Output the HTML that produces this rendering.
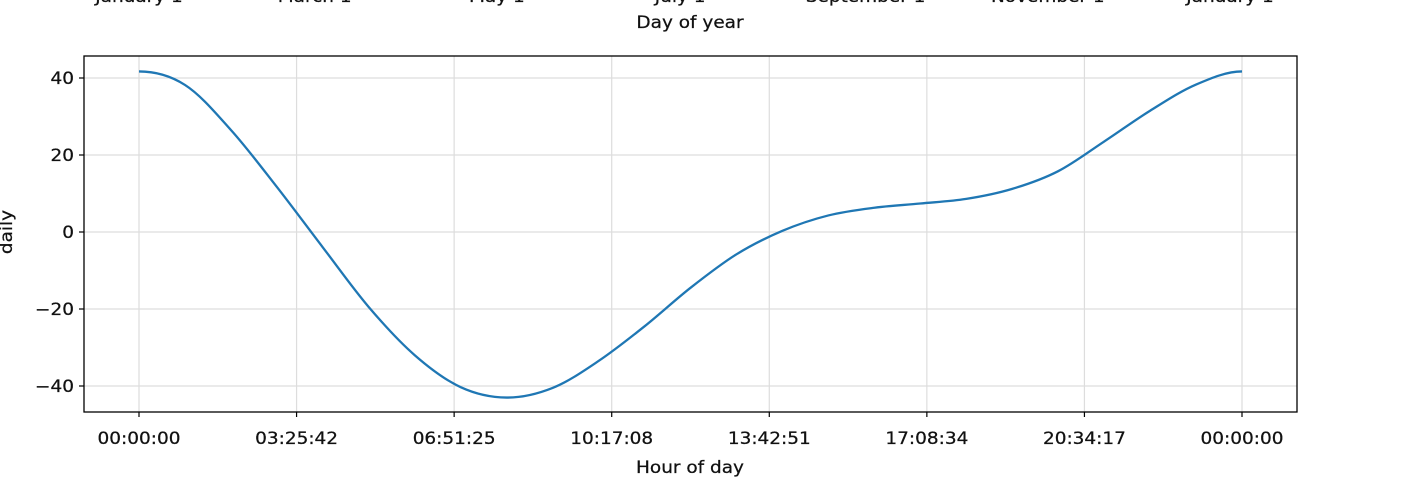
<!DOCTYPE html>
<html><head><meta charset="utf-8"><style>
html,body{margin:0;padding:0;background:#fff;}
svg{display:block;font-family:"DejaVu Sans","Liberation Sans",sans-serif;}
</style></head><body>
<svg id="chart" width="1411" height="481" viewBox="0 0 1411 481" xmlns="http://www.w3.org/2000/svg">
<g id="topAxis"></g>
<g id="grid"></g>
<path id="line" fill="none" stroke="#1f77b4" stroke-width="2.3"/>
<rect x="84" y="56" width="1213" height="356" fill="none" stroke="#000" stroke-width="1.3"/>
<g id="ticks"></g>
</svg>
<script>
const hours = [0,1,2,3,4,5,6,7,8,9,10,11,12,13,14,15,16,17,18,19,20,21,22,23,24];
const dailyValues = [41.7,38.2,26.5,11.7,-4,-19.5,-32,-40.3,-43,-40.5,-33.5,-24.5,-14.5,-5.8,0.3,4.3,6.3,7.4,8.6,11.2,15.8,23.5,31.5,38.3,41.7];
const xTickLabels = ["00:00:00","03:25:42","06:51:25","10:17:08","13:42:51","17:08:34","20:34:17","00:00:00"];
const yTicks = [-40,-20,0,20,40];
const yTickLabels = ["\u221240","\u221220","0","20","40"];
const topLabels = ["January 1","March 1","May 1","July 1","September 1","November 1","January 1"];
const topFractions = [0,0.161,0.328,0.496,0.666,0.833,1];

const NS="http://www.w3.org/2000/svg";
const X0=139,X1=1242,Y40=78,Y0=232;
const xs=h=>X0+(h/24)*(X1-X0);
const ys=v=>Y0-(v/40)*(Y0-Y40);
const SX=1.12;
function mk(tag,attrs,parent){const e=document.createElementNS(NS,tag);for(const k in attrs)e.setAttribute(k,attrs[k]);parent.appendChild(e);return e;}
function txt(parent,s,x,y,anchor,size,rot){
  const t=mk('text',{transform:`translate(${x},${y})${rot?' rotate(-90)':''} scale(${SX},1)`,'text-anchor':anchor,'font-size':size,fill:'#111','stroke':'#111','stroke-width':0.25},parent);
  t.textContent=s;return t;}
const gridG=document.getElementById('grid'),ticksG=document.getElementById('ticks'),topG=document.getElementById('topAxis');
xTickLabels.forEach((l,i)=>{
  const x=X0+i*(X1-X0)/(xTickLabels.length-1);
  const g=mk('line',{x1:x,x2:x,y1:56,y2:412,stroke:'#ddd','stroke-width':1.2},gridG);
  
  
  const tk=mk('line',{x1:x,x2:x,y1:412,y2:417,stroke:'#000','stroke-width':1.2},ticksG);
  
  
  const t=txt(ticksG,l,x,444,'middle',16.5);
  
  
});
yTicks.forEach((v,i)=>{
  const y=ys(v);
  const g=mk('line',{x1:84,x2:1297,y1:y,y2:y,stroke:'#ddd','stroke-width':1.2},gridG);
  
  
  const tk=mk('line',{x1:79,x2:84,y1:y,y2:y,stroke:'#000','stroke-width':1.2},ticksG);
  
  
  const t=txt(ticksG,yTickLabels[i],74,y+6,'end',16.5);
  
  
});
const xt=txt(ticksG,'Hour of day',690,473,'middle',16.5);


const yt=txt(ticksG,'daily',12,232,'middle',16.5,true);


topLabels.forEach((l,i)=>{
  const t=txt(topG,l,139+topFractions[i]*(1230-139),2,'middle',16.5);
  
  
});
const dt=txt(topG,'Day of year',690,28,'middle',16.5);


const P=hours.map((h,i)=>[xs(h),ys(dailyValues[i])]);
let d=`M${P[0][0]},${P[0][1]}`;
for(let i=0;i<P.length-1;i++){
  const p0=i===0?[2*P[0][0]-P[1][0],P[1][1]]:P[i-1],p1=P[i],p2=P[i+1];
  const p3=i+2<P.length?P[i+2]:[2*P[P.length-1][0]-P[P.length-2][0],P[P.length-2][1]];
  const c1=[p1[0]+(p2[0]-p0[0])/6,p1[1]+(p2[1]-p0[1])/6];
  const c2=[p2[0]-(p3[0]-p1[0])/6,p2[1]-(p3[1]-p1[1])/6];
  d+=` C${c1[0]},${c1[1]} ${c2[0]},${c2[1]} ${p2[0]},${p2[1]}`;
}
document.getElementById('line').setAttribute('d',d);
</script>
</body></html>
